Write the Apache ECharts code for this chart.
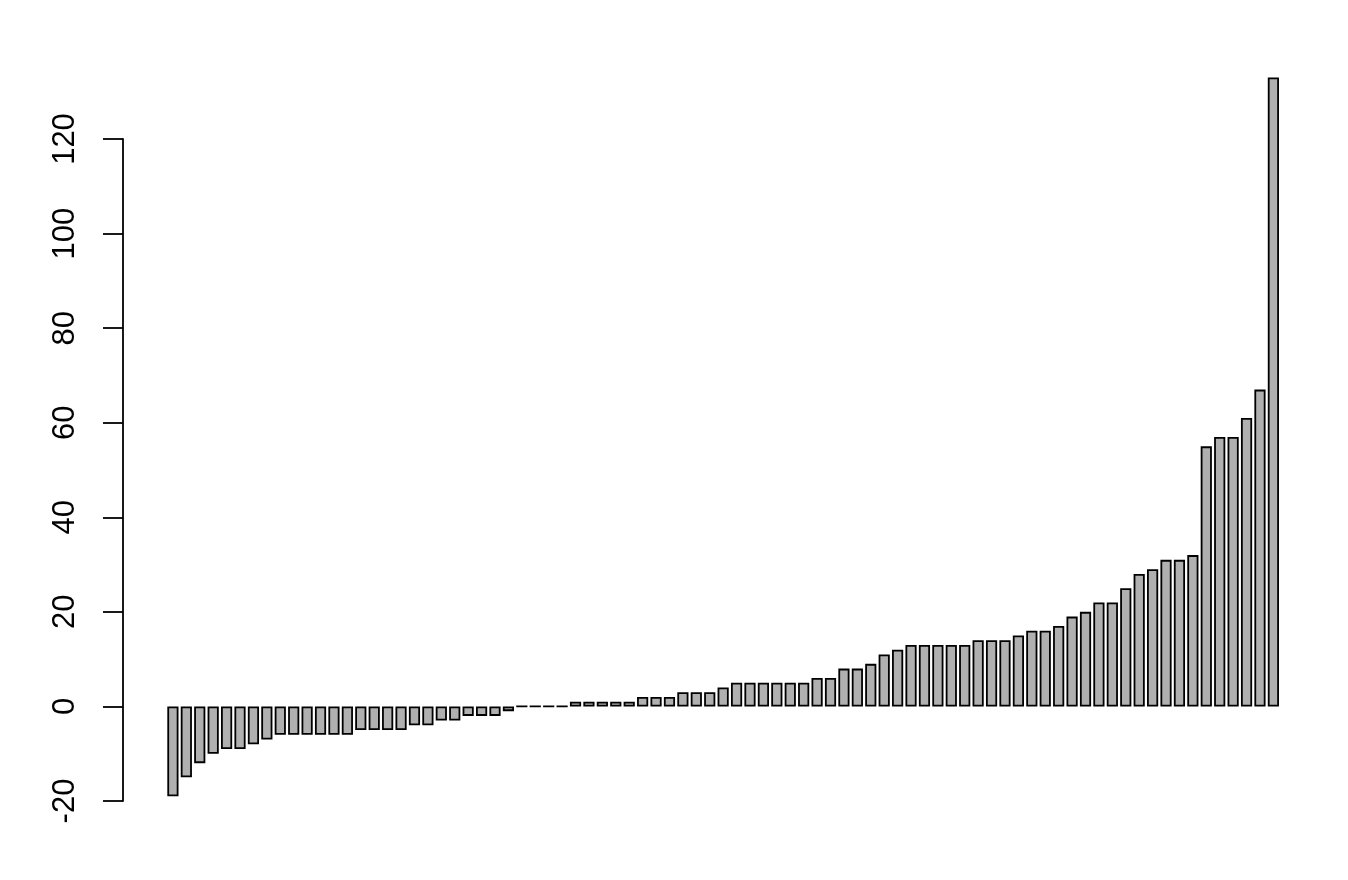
<!DOCTYPE html>
<html>
<head>
<meta charset="utf-8">
<script src="https://cdn.jsdelivr.net/npm/echarts@6/dist/echarts.min.js"></script>
<style>
html,body{margin:0;padding:0;background:#fff;}
#chart{width:1348px;height:880px;}
</style>
</head>
<body>
<div id="chart"></div>
<script>
var values = [
  -19, -15, -12, -10, -9, -9, -8, -7, -6, -6, -6, -6, -6, -6,
  -5, -5, -5, -5, -4, -4, -3, -3, -2, -2, -2, -1,
  0, 0, 0, 0,
  1, 1, 1, 1, 1, 2, 2, 2, 3, 3, 3, 4,
  5, 5, 5, 5, 5, 5, 6, 6, 8, 8, 9, 11, 12,
  13, 13, 13, 13, 13, 14, 14, 14, 15, 16, 16, 17, 19, 20, 22, 22,
  25, 28, 29, 31, 31, 32, 55, 57, 57, 61, 67, 133
];
var categories = values.map(function (v, i) { return String(i + 1); });
var yTicks = [-20, 0, 20, 40, 60, 80, 100, 120];

var chart = echarts.init(document.getElementById('chart'), null, {renderer: 'canvas'});
chart.setOption({
  animation: false,
  backgroundColor: '#ffffff',
  grid: {left: 166.2, right: 67.9, top: 139, bottom: 79, containLabel: false},
  xAxis: {
    type: 'category',
    data: categories,
    show: false,
    boundaryGap: true
  },
  yAxis: {
    type: 'value',
    min: yTicks[0],
    max: yTicks[yTicks.length - 1],
    interval: 20,
    offset: 43.2,
    axisLine: {show: true, lineStyle: {color: '#000', width: 1.8}},
    axisTick: {show: true, inside: false, length: 20, lineStyle: {color: '#000', width: 1.8}},
    splitLine: {show: false},
    axisLabel: {
      show: true,
      rotate: 90,
      margin: 42,
      color: '#000',
      fontSize: 31,
      fontFamily: 'Liberation Sans, Arial, sans-serif'
    }
  },
  series: [{
    type: 'bar',
    data: values,
    clip: false,
    barCategoryGap: '16.67%',
    itemStyle: {color: '#b0b0b0', borderColor: '#000', borderWidth: 1.8}
  }]
});
</script>
</body>
</html>
